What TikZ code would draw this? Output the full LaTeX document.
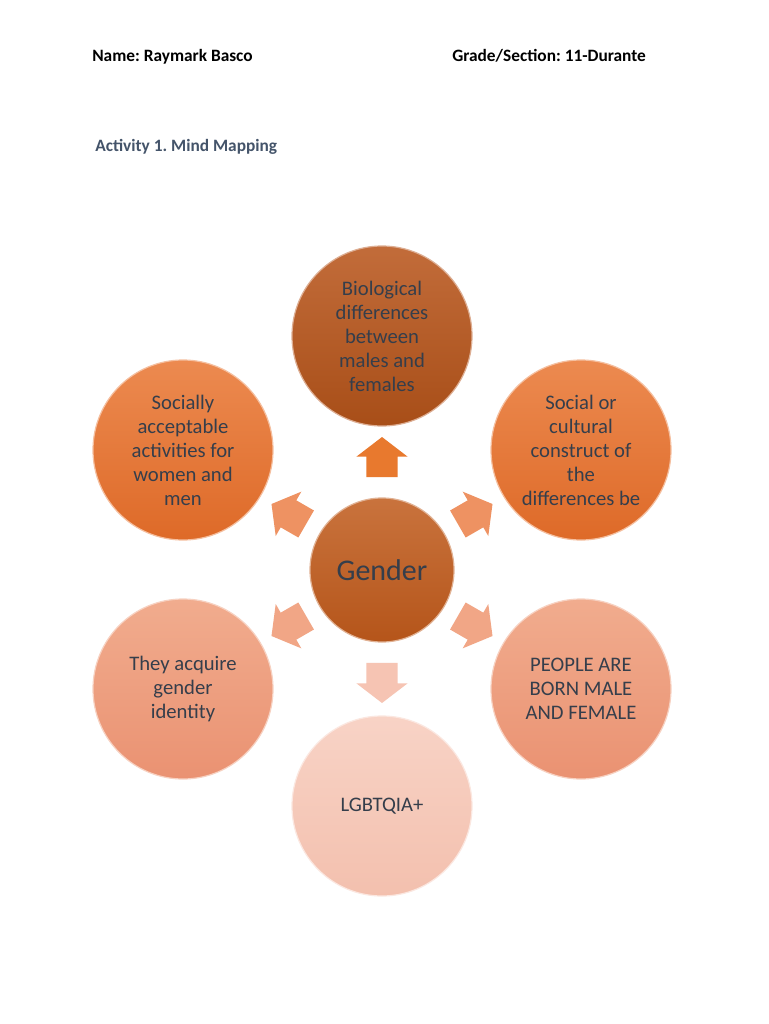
\documentclass[tikz,border=0pt]{standalone}
\usepackage{fontspec}
\setmainfont{Carlito}
\usetikzlibrary{shapes.arrows}
\frenchspacing
\definecolor{txt}{HTML}{353E4B}
\definecolor{headblue}{HTML}{44546A}
\definecolor{cTopA}{HTML}{C26C3A}\definecolor{cTopB}{HTML}{A84E18}
\definecolor{cMidA}{HTML}{EC8A50}\definecolor{cMidB}{HTML}{DE6A28}
\definecolor{cCenA}{HTML}{C9733D}\definecolor{cCenB}{HTML}{B5551A}
\definecolor{cLowA}{HTML}{F1AC8E}\definecolor{cLowB}{HTML}{EA9272}
\definecolor{cBotA}{HTML}{F8D3C6}\definecolor{cBotB}{HTML}{F3C0AE}
\definecolor{aUp}{HTML}{E8792E}
\definecolor{aDiagU}{HTML}{EE9262}
\definecolor{aDiagL}{HTML}{F1A686}
\definecolor{aDown}{HTML}{F6C4B3}
\begin{document}
\begin{tikzpicture}[x=0.75pt,y=-0.75pt,
  bubble/.style={circle, minimum size=135pt, inner sep=0pt, align=center,
    text=txt, font=\fontsize{15.5}{18}\selectfont, shading=axis, line width=0.9pt},
  blockarr/.style={single arrow, draw=none, minimum height=30pt,
    inner xsep=0pt, inner ysep=11.5pt, single arrow head extend=7.5pt,
    single arrow tip angle=105, single arrow head indent=0pt},
  head/.style={anchor=base west, font=\bfseries\fontsize{13}{15}\selectfont, text=black, inner sep=0pt}
]
\useasboundingbox (0,0) rectangle (768,1024);
\fill[white] (0,0) rectangle (768,1024);

% header
\node[head] (name) at (92,62) {Name: Raymark Basco};
\node[head] (grade) at (452,62) {Grade/Section: 11-Durante};
\node[head, text=headblue, font=\bfseries\fontsize{13}{15}\selectfont] (act) at (95,151) {Activity 1. Mind Mapping};

% centre
\node[bubble, minimum size=108pt, top color=cCenA, bottom color=cCenB, draw=cCenA!55!white,
  font=\fontsize{22.5}{26}\selectfont] (gender) at (382,570) {Gender};

% arrows
\node[blockarr, fill=aUp, rotate=90] (arU) at (382,463) {};
\node[blockarr, fill=aDiagU, rotate=30] (arUR) at (470,517) {};
\node[blockarr, fill=aDiagU, rotate=150] (arUL) at (294,517) {};
\node[blockarr, fill=aDiagL, rotate=330] (arLR) at (470,623) {};
\node[blockarr, fill=aDiagL, rotate=210] (arLL) at (294,623) {};
\node[blockarr, fill=aDown, rotate=270] (arD) at (382,677) {};

% outer circles
\node[bubble, top color=cTopA, bottom color=cTopB, draw=cTopA!55!white] (bio) at (382,336)
  {Biological\\differences\\between\\males and\\females};
\node[bubble, top color=cMidA, bottom color=cMidB, draw=cMidA!55!white] (soc) at (183,450)
  {Socially\\acceptable\\activities for\\women and\\men};
\node[bubble, top color=cMidA, bottom color=cMidB, draw=cMidA!55!white] (cul) at (581,450)
  {Social or\\cultural\\construct of\\the\\differences be};
\node[bubble, top color=cLowA, bottom color=cLowB, draw=cLowA!55!white] (acq) at (183,689)
  {They acquire\\gender\\identity};
\node[bubble, top color=cLowA, bottom color=cLowB, draw=cLowA!55!white] (born) at (581,689)
  {PEOPLE ARE\\BORN MALE\\AND FEMALE};
\node[bubble, top color=cBotA, bottom color=cBotB, draw=cBotA!55!white] (lgb) at (382,806)
  {LGBTQIA+};
\end{tikzpicture}
\end{document}
